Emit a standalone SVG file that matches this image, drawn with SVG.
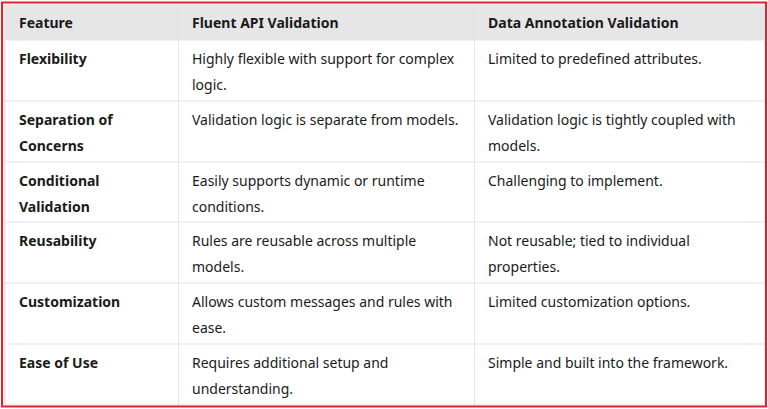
<svg xmlns="http://www.w3.org/2000/svg" width="768" height="409" viewBox="0 0 768 409">
<style>
text{font-family:"Noto Sans","Open Sans",sans-serif;font-size:14px;fill:#1a1a1a}
.b{font-weight:bold}
.g{stroke:#e3e3e3;stroke-width:1}
</style>
<rect x="0" y="0" width="768" height="409" fill="#fff"/>
<g id="table">
<rect x="5" y="5" width="760" height="400" fill="#fff" stroke="#dcdcdc"/>
<rect x="5.5" y="5.5" width="759" height="35" fill="#e6e6e6"/>
<g class="g">
<line x1="5" y1="101" x2="765" y2="101"/><line x1="5" y1="162" x2="765" y2="162"/>
<line x1="5" y1="222" x2="765" y2="222"/><line x1="5" y1="283" x2="765" y2="283"/>
<line x1="5" y1="344" x2="765" y2="344"/>
<line x1="178.5" y1="5" x2="178.5" y2="405"/><line x1="474.5" y1="5" x2="474.5" y2="405"/>
</g>
</g>
<g id="header">
<text class="b" x="19" y="28">Feature</text>
<text class="b" x="192" y="28">Fluent API Validation</text>
<text class="b" x="488" y="28">Data Annotation Validation</text>
</g>
<g id="rows">
<text class="b" x="19" y="64">Flexibility</text>
<text x="192" y="64">Highly flexible with support for complex</text><text x="192" y="90">logic.</text>
<text x="488" y="64">Limited to predefined attributes.</text>
<text class="b" x="19" y="125">Separation of</text><text class="b" x="19" y="151">Concerns</text>
<text x="192" y="125">Validation logic is separate from models.</text>
<text x="488" y="125">Validation logic is tightly coupled with</text><text x="488" y="151">models.</text>
<text class="b" x="19" y="186">Conditional</text><text class="b" x="19" y="212">Validation</text>
<text x="192" y="186">Easily supports dynamic or runtime</text><text x="192" y="212">conditions.</text>
<text x="488" y="186">Challenging to implement.</text>
<text class="b" x="19" y="246">Reusability</text>
<text x="192" y="246">Rules are reusable across multiple</text><text x="192" y="272">models.</text>
<text x="488" y="246">Not reusable; tied to individual</text><text x="488" y="272">properties.</text>
<text class="b" x="19" y="307">Customization</text>
<text x="192" y="307">Allows custom messages and rules with</text><text x="192" y="333">ease.</text>
<text x="488" y="307">Limited customization options.</text>
<text class="b" x="19" y="368">Ease of Use</text>
<text x="192" y="368">Requires additional setup and</text><text x="192" y="394">understanding.</text>
<text x="488" y="368">Simple and built into the framework.</text>
</g>
<rect x="2" y="2.5" width="764" height="404" fill="none" stroke="#e8202a" stroke-width="2"/>
</svg>
